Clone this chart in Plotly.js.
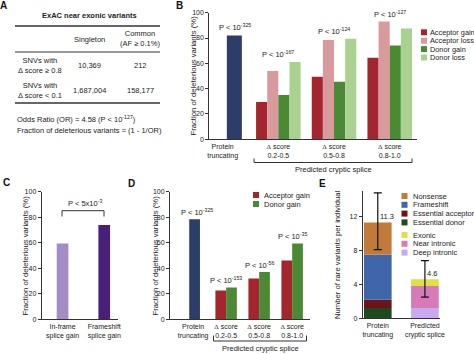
<!DOCTYPE html>
<html><head><meta charset="utf-8">
<script src="https://cdn.plot.ly/plotly-3.0.1.min.js"></script>
<style>html,body{margin:0;padding:0;background:#fff}#chart{width:474px;height:354px}</style>
</head><body><div id="chart"></div>
<script>
// ---------- Panel A: table ----------
const tableTitle = 'ExAC near exonic variants';
const tableCols = ['Singleton', 'Common<br>(AF ≥ 0.1%)'];
const tableRows = ['SNVs with<br>Δ score ≥ 0.8', 'SNVs with<br>Δ score &lt; 0.1'];
const tableSingleton = ['10,369', '1,687,004'];
const tableCommon = ['212', '158,177'];
const tableNotes = ['Odds Ratio (OR) = 4.58 (P &lt; 10<sup>-127</sup>)', 'Fraction of deleterious variants = (1 - 1/OR)'];

// ---------- Panel B ----------
const D_ = '<span style="font-family:Liberation Serif">Δ</span>';
const bCats = ['Protein<br>truncating', D_ + ' score<br>0.2-0.5', D_ + ' score<br>0.5-0.8', D_ + ' score<br>0.8-1.0'];
const bTruncating = [82];
const bSeriesNames = ['Acceptor gain', 'Acceptor loss', 'Donor gain', 'Donor loss'];
const bAcceptorGain = [29.5, 49.5, 64.5];
const bAcceptorLoss = [54, 78.5, 93];
const bDonorGain = [35, 45.5, 74];
const bDonorLoss = [61, 79.5, 87.5];
const bPvalExp = ['-325', '-167', '-124', '-127'];

// ---------- Panel C ----------
const cCats = ['In-frame<br>splice gain', 'Frameshift<br>splice gain'];
const cValues = [59.5, 74];
const cPval = 'P &lt; 5x10<sup>-3</sup>';

// ---------- Panel D ----------
const dCats = bCats;
const dTruncating = [78.5];
const dSeriesNames = ['Acceptor gain', 'Donor gain'];
const dAcceptorGain = [22.5, 32, 46];
const dDonorGain = [25, 37, 59.5];
const dPvalExp = ['-325', '-153', '-56', '-35'];

// ---------- Panel E ----------
const eCats = ['Protein<br>truncating', 'Predicted<br>cryptic splice'];
const eTruncNames = ['Essential donor', 'Essential acceptor', 'Frameshift', 'Nonsense']; // bottom -> top
const eTruncValues = [1.2, 1.0, 5.3, 3.8];
const eSpliceNames = ['Deep intronic', 'Near intronic', 'Exonic']; // bottom -> top
const eSpliceValues = [1.2, 2.6, 0.8];
const eTotals = [11.3, 4.6];
const eErrPlus = [3.5, 2.2];
const eErrMinus = [3.2, 2.1];

// ---------- styling ----------
const FONT = 'Liberation Sans, Arial, sans-serif';
const TXT = '#222';
const NAVY = '#2d3d69';
const bColors = ['#a3262f', '#d99a9c', '#4a8a34', '#aad18f'];
const cColors = ['#a58cc6', '#4a1f78'];
const eTruncColors = ['#1f4a1f', '#6b1419', '#3e66a8', '#c27a3b'];
const eSpliceColors = ['#c9aaf0', '#d77bb8', '#dfe044'];

const W = 474, H = 354;
const P = x => x / W, Q = y => 1 - y / H;

const traces = [];
const annotations = [];
const shapes = [];

function bar(ax, x, y, color, width, offset, extra) {
  traces.push(Object.assign({type: 'bar', x: x, y: y, xaxis: 'x' + ax, yaxis: 'y' + ax,
    marker: {color: color, line: {width: 0}}, width: width, offset: offset,
    showlegend: false, hoverinfo: 'skip'}, extra || {}));
}

// Panel B bars
bar('', [bCats[0]], bTruncating, NAVY, 0.27, 0.075);
[bAcceptorGain, bAcceptorLoss, bDonorGain, bDonorLoss].forEach((v, i) =>
  bar('', bCats.slice(1), v, bColors[i], 0.2, -0.4 + 0.2 * i));
// Panel C bars
bar('2', cCats, cValues, cColors, 0.28, -0.14);
// Panel D bars
bar('3', [dCats[0]], dTruncating, NAVY, 0.325, -0.118);
[dAcceptorGain, dDonorGain].forEach((v, i) =>
  bar('3', dCats.slice(1), v, [bColors[0], bColors[2]][i], 0.325, -0.325 + 0.325 * i));
// Panel E stacked bars
let base = 0;
eTruncValues.forEach((v, i) => { bar('4', [eCats[0]], [v], eTruncColors[i], 0.587, -0.2935, {base: [base]}); base += v; });
base = 0;
eSpliceValues.forEach((v, i) => { bar('4', [eCats[1]], [v], eSpliceColors[i], 0.587, -0.2935, {base: [base]}); base += v; });
traces.push({type: 'scatter', mode: 'markers', x: eCats, y: eTotals, xaxis: 'x4', yaxis: 'y4',
  marker: {size: 1, opacity: 0}, showlegend: false, hoverinfo: 'skip',
  error_y: {type: 'data', symmetric: false, array: eErrPlus, arrayminus: eErrMinus, color: '#111', thickness: 1.2, width: 4}});

// ---------- text helpers ----------
function ann(text, x, y, o) {
  annotations.push(Object.assign({text: text, x: P(x), y: Q(y), xref: 'paper', yref: 'paper',
    showarrow: false, font: {family: FONT, size: 7.5, color: TXT}, xanchor: 'center', yanchor: 'middle'}, o || {}));
}
function line(x0, y0, x1, y1, w) {
  shapes.push({type: 'line', xref: 'paper', yref: 'paper', x0: P(x0), y0: Q(y0), x1: P(x1), y1: Q(y1),
    line: {color: '#333', width: w || 1}});
}
function legend(names, colors, sx, tx, y0, step, fs) {
  names.forEach((n, i) => {
    const y = y0 + i * step;
    shapes.push({type: 'rect', xref: 'paper', yref: 'paper', x0: P(sx), x1: P(sx + 6), y0: Q(y + 3), y1: Q(y - 3),
      fillcolor: colors[i], line: {width: 0}});
    ann(n, tx, y, {xanchor: 'left', font: {family: FONT, size: fs || 7.5, color: TXT}});
  });
}

// Panel letters
[['A', 3, 5], ['B', 179, 5], ['C', 6, 183], ['D', 131.5, 183.5], ['E', 322.5, 183.5]].forEach(l =>
  ann('<b>' + l[0] + '</b>', l[1], l[2], {font: {family: FONT, size: 10, color: '#111'}}));

// Panel A table
ann('<b>' + tableTitle + '</b>', 89, 15);
line(15, 26, 160, 26, 1.5);
line(15, 52, 160, 52, 1);
line(15, 103, 160, 103, 1.5);
ann(tableCols[0], 89, 39);
ann(tableCols[1], 140, 38.5);
tableRows.forEach((r, i) => {
  const y = 65 + i * 25;
  ann(r, 40, y);
  ann(tableSingleton[i], 89, y);
  ann(tableCommon[i], 140, y);
});
ann(tableNotes[0], 15, 119, {xanchor: 'left'});
ann(tableNotes[1], 15, 130.5, {xanchor: 'left'});

// y-axis titles
const yTitle = 'Fraction of deleterious variants (%)';
ann(yTitle, 192.5, 76, {textangle: -90, font: {family: FONT, size: 7.7, color: TXT}});
ann(yTitle, 25, 255.5, {textangle: -90, font: {family: FONT, size: 7.7, color: TXT}});
ann(yTitle, 155, 255.5, {textangle: -90, font: {family: FONT, size: 7.7, color: TXT}});
ann('Number of rare variants per individual', 337, 255, {textangle: -90, font: {family: FONT, size: 7.7, color: TXT}});

// p-values on B and D
const bGroups = [bTruncating[0]].concat([0, 1, 2].map(i => Math.max(bAcceptorGain[i], bAcceptorLoss[i], bDonorGain[i], bDonorLoss[i])));
bGroups.forEach((m, i) => annotations.push({text: 'P &lt; 10<sup>' + bPvalExp[i] + '</sup>', x: bCats[i], y: m,
  xref: 'x', yref: 'y', showarrow: false, yanchor: 'middle', yshift: 8, xshift: i === 0 ? 12 : 0,
  font: {family: FONT, size: 7.5, color: TXT}}));
const dGroups = [dTruncating[0]].concat([0, 1, 2].map(i => Math.max(dAcceptorGain[i], dDonorGain[i])));
dGroups.forEach((m, i) => annotations.push({text: 'P &lt; 10<sup>' + dPvalExp[i] + '</sup>', x: dCats[i], y: m,
  xref: 'x3', yref: 'y3', showarrow: false, yanchor: 'middle', yshift: 7, xshift: i === 0 ? 4 : 0,
  font: {family: FONT, size: 7.5, color: TXT}}));
// totals on E
eTotals.forEach((t, i) => annotations.push({text: String(t), x: eCats[i], y: t, xref: 'x4', yref: 'y4',
  showarrow: false, xanchor: 'left', yanchor: 'bottom', xshift: 0, yshift: -1,
  font: {family: FONT, size: 7.5, color: TXT}}));

// C bracket + p-value
line(62, 210.7, 104, 210.7); line(62, 210.7, 62, 216.5); line(104, 210.7, 104, 216.5);
ann(cPval, 85, 203.5);
// B bracket
line(254, 162.5, 412, 162.5); line(254, 158.5, 254, 162.5); line(412, 158.5, 412, 162.5);
ann('Predicted cryptic splice', 333, 169.5);
// D bracket
line(213.5, 341, 306.5, 341); line(213.5, 335.5, 213.5, 341); line(306.5, 335.5, 306.5, 341);
ann('Predicted cryptic splice', 260, 348.8);

// Legends
legend(bSeriesNames, bColors, 421, 428, 32.3, 8.4, 7.3);
legend(dSeriesNames, [bColors[0], bColors[2]], 253, 261.5, 195, 9);
legend(eTruncNames.slice().reverse(), eTruncColors.slice().reverse(), 401.5, 410.5, 196, 8.8);
legend(eSpliceNames.slice().reverse(), eSpliceColors.slice().reverse(), 401.5, 410.5, 235, 8.8);

// ---------- axes ----------
const ax = {showline: true, linecolor: '#333', linewidth: 1, ticks: 'outside', ticklen: 3, tickwidth: 1,
  tickcolor: '#333', showgrid: false, zeroline: false, fixedrange: true,
  tickfont: {family: FONT, size: 7, color: TXT}};
const xa = Object.assign({}, ax, {ticks: '', type: 'category'});

const layout = {
  width: W, height: H, margin: {l: 0, r: 0, t: 0, b: 0},
  paper_bgcolor: '#fff', plot_bgcolor: 'rgba(0,0,0,0)', barmode: 'overlay', showlegend: false,
  font: {family: FONT, color: TXT},
  xaxis: Object.assign({}, xa, {domain: [P(209.3), P(417)], range: [-0.24, 3.49], anchor: 'y'}),
  yaxis: Object.assign({}, ax, {domain: [Q(139.3), Q(12.7)], range: [0, 100], dtick: 20, anchor: 'x'}),
  xaxis2: Object.assign({}, xa, {domain: [P(41.7), P(118)], range: [-0.5, 1.33], anchor: 'y2'}),
  yaxis2: Object.assign({}, ax, {domain: [Q(319.3), Q(191.7)], range: [0, 100], dtick: 20, anchor: 'x2'}),
  xaxis3: Object.assign({}, xa, {domain: [P(170), P(310)], range: [-0.70, 3.54], anchor: 'y3'}),
  yaxis3: Object.assign({}, ax, {domain: [Q(319.3), Q(191.7)], range: [0, 100], dtick: 20, anchor: 'x3'}),
  xaxis4: Object.assign({}, xa, {domain: [P(362.7), P(440)], range: [-0.32, 1.32], anchor: 'y4'}),
  yaxis4: Object.assign({}, ax, {domain: [Q(318.3), Q(191.1)], range: [0, 15], tickvals: [0, 4, 8, 12], anchor: 'x4'}),
  annotations: annotations, shapes: shapes
};

Plotly.newPlot('chart', traces, layout, {displayModeBar: false, staticPlot: true});
</script>
</body></html>
